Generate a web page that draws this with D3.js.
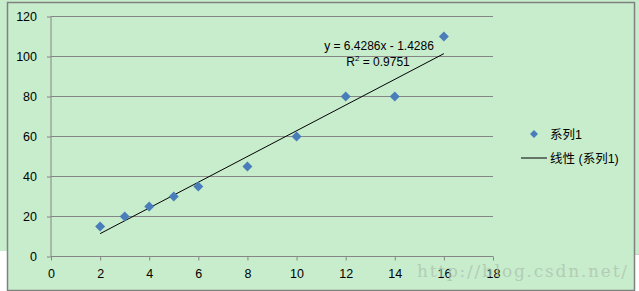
<!DOCTYPE html>
<html><head><meta charset="utf-8">
<script src="https://cdn.jsdelivr.net/npm/d3@7"></script>
<style>html,body{margin:0;padding:0;background:#fff;}svg{display:block;}</style>
</head><body>
<script>
const xValues = [2, 3, 4, 5, 6, 8, 10, 12, 14, 16];
const yValues = [15, 20, 25, 30, 35, 45, 60, 80, 80, 110];
const xTicks = [0, 2, 4, 6, 8, 10, 12, 14, 16, 18];
const yTicks = [0, 20, 40, 60, 80, 100, 120];
const seriesName = "系列1";
const trendName = "线性 (系列1)";
const equationText = "y = 6.4286x - 1.4286";
const r2Value = "0.9751";
const watermark = "http://blog.csdn.net/";

const W = 639, H = 291;
const svg = d3.select("body").append("svg").attr("width", W).attr("height", H);
const font = "'Liberation Sans', Arial, 'Noto Sans CJK SC', sans-serif";

// background
svg.append("rect").attr("x",0).attr("y",0).attr("width",W).attr("height",H).attr("fill","#C7EDCC");
svg.append("rect").attr("x",0).attr("y",251).attr("width",7).attr("height",H-251).attr("fill","#fff");
svg.append("rect").attr("x",635).attr("y",254).attr("width",4).attr("height",H-254).attr("fill","#fff");
svg.append("line").attr("x1",635).attr("x2",639).attr("y1",254.5).attr("y2",254.5).attr("stroke","#d0d0d0");
// chart border
svg.append("rect").attr("x",7.5).attr("y",2.5).attr("width",627).attr("height",288).attr("fill","none").attr("stroke","#808080").attr("stroke-width",1.5);

const x = d3.scaleLinear().domain([0,18]).range([51,493]);
const y = d3.scaleLinear().domain([0,120]).range([256.5,16.5]);

// gridlines
svg.append("g").selectAll("line").data(yTicks.filter(d=>d>0)).join("line")
  .attr("x1",x(0)).attr("x2",x(18)).attr("y1",d=>y(d)).attr("y2",d=>y(d))
  .attr("stroke","#868686").attr("stroke-width",1);

// y axis
const yAxis = svg.append("g").attr("transform",`translate(${x(0)},0)`)
  .call(d3.axisLeft(y).tickValues(yTicks).tickSize(4).tickPadding(10).tickFormat(d3.format("d")));
// x axis
const xAxis = svg.append("g").attr("transform",`translate(0,${y(0)})`)
  .call(d3.axisBottom(x).tickValues(xTicks).tickSize(4).tickPadding(9).tickFormat(d3.format("d")));
[yAxis,xAxis].forEach(a=>{
  a.selectAll("path,line").attr("stroke","#868686").attr("stroke-width",1);
  a.selectAll("text").attr("fill","#000").style("font-family",font).style("font-size","12.5px");
});
xAxis.select(".domain").attr("d",`M${x(0)},0H${x(18)}`);
yAxis.select(".domain").attr("d",`M0,${y(0)}V${y(120)}`);

// watermark
svg.append("text").attr("x",417).attr("y",277).text(watermark)
  .attr("textLength",210).attr("lengthAdjust","spacing")
  .attr("fill","#aec4af").attr("fill-opacity",0.8)
  .style("font-family","'DejaVu Serif','Liberation Serif',serif").style("font-size","17px");

// trendline from regression
const mx = d3.mean(xValues), my = d3.mean(yValues);
const slope = d3.sum(xValues.map((v,i)=>(v-mx)*(yValues[i]-my))) / d3.sum(xValues.map(v=>(v-mx)**2));
const intercept = my - slope*mx;
const x0 = d3.min(xValues), x1 = d3.max(xValues);
svg.append("line").attr("x1",x(x0)).attr("y1",y(slope*x0+intercept))
  .attr("x2",x(x1)).attr("y2",y(slope*x1+intercept))
  .attr("stroke","#000").attr("stroke-width",1);

// markers
const diamond = d3.symbol().type(d3.symbolSquare).size(50);
svg.append("g").selectAll("path").data(xValues.map((v,i)=>[v,yValues[i]])).join("path")
  .attr("d",diamond)
  .attr("transform",d=>`translate(${x(d[0])},${y(d[1])}) rotate(45)`)
  .attr("fill","#4A7EBB");

// equation
svg.append("text").attr("x",379).attr("y",50).attr("text-anchor","middle")
  .style("font-family",font).style("font-size","12px").attr("fill","#000").text(equationText);
const r2 = svg.append("text").attr("x",378).attr("y",66).attr("text-anchor","middle")
  .style("font-family",font).style("font-size","12px").attr("fill","#000");
r2.append("tspan").text("R");
r2.append("tspan").attr("dy",-5).style("font-size","8px").text("2");
r2.append("tspan").attr("dy",5).text(" = " + r2Value);

// legend
svg.append("path").attr("d",d3.symbol().type(d3.symbolSquare).size(32))
  .attr("transform","translate(534,134) rotate(45)").attr("fill","#4A7EBB");
svg.append("text").attr("x",550).attr("y",138.5).text(seriesName)
  .style("font-family",font).style("font-size","12.5px").attr("fill","#000");
svg.append("line").attr("x1",521).attr("x2",547).attr("y1",158).attr("y2",158).attr("stroke","#000").attr("stroke-width",1);
svg.append("text").attr("x",550).attr("y",162.5).text(trendName)
  .style("font-family",font).style("font-size","12.5px").attr("fill","#000");
</script>
</body></html>
